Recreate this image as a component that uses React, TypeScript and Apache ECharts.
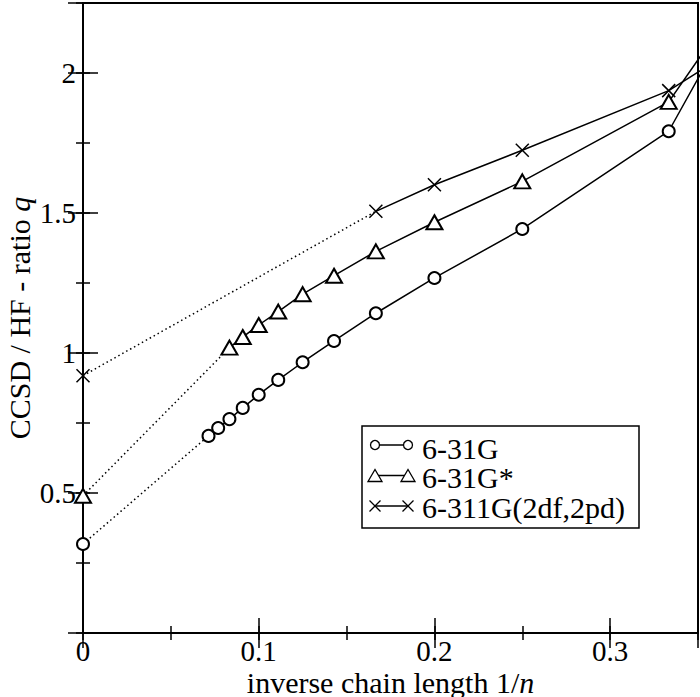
import { useEffect, useRef } from 'react'
import * as echarts from 'echarts'

// chain lengths n (x = 1/n) and CCSD/HF ratio q for each basis set
const chainN631G = [2, 3, 4, 5, 6, 7, 8, 9, 10, 11, 12, 13, 14]
const q631G = [3.67, 1.792, 1.443, 1.268, 1.142, 1.043, 0.967, 0.904, 0.851, 0.804, 0.764, 0.732, 0.704]
const chainN631Gs = [2, 3, 4, 5, 6, 7, 8, 9, 10, 11, 12]
const q631Gs = [3.4, 1.897, 1.613, 1.467, 1.363, 1.276, 1.21, 1.148, 1.1, 1.057, 1.019]
const chainN6311G = [2, 3, 4, 5, 6]
const q6311G = [2.6, 1.937, 1.724, 1.601, 1.506]
// extrapolated values at 1/n = 0
const qLimit = [0.318, 0.49, 0.919]

const seriesNames = ['6-31G', '6-31G*', '6-311G(2df,2pd)']
const xTickLabels = ['0', '0.1', '0.2', '0.3']
const yTickLabels = ['0.5', '1', '1.5', '2']

const FONT = 'Liberation Serif'
const CROSS = 'path://M0,0L1,1M1,0L0,1'

const toPoints = (ns: number[], qs: number[]) => ns.map((n, i) => [1 / n, qs[i]])

export default function App() {
  const chartRef = useRef<HTMLDivElement>(null)

  useEffect(() => {
    if (!chartRef.current) return
    const chart = echarts.init(chartRef.current, undefined, { renderer: 'svg' })

    const sets = [
      { ns: chainN631G, qs: q631G, symbol: 'emptyCircle', size: 12 as any },
      { ns: chainN631Gs, qs: q631Gs, symbol: 'emptyTriangle', size: [16, 14] as any },
      { ns: chainN6311G, qs: q6311G, symbol: CROSS, size: 13 as any },
    ]

    // empty symbols take their stroke from color and get a white fill
    const itemStyle = { color: '#000', borderColor: '#000', borderWidth: 1.5 }

    const dotted = sets.map((s, i) => {
      const last = s.ns.length - 1
      return {
        type: 'line',
        name: seriesNames[i] + ' extrapolation',
        data: [
          { value: [0, qLimit[i]] },
          { value: [1 / s.ns[last], s.qs[last]], symbol: 'none' },
        ],
        symbol: s.symbol,
        symbolSize: s.size,
        itemStyle,
        lineStyle: { color: '#000', width: 1.5, type: [1.5, 3] },
        z: 2,
      }
    })

    const solid = sets.map((s, i) => ({
      type: 'line',
      name: seriesNames[i],
      data: toPoints(s.ns, s.qs),
      symbol: s.symbol,
      symbolSize: s.size,
      itemStyle,
      lineStyle: { color: '#000', width: 1.5 },
      z: 3,
    }))

    const xLabel = (v: number) => {
      const s = String(+v.toFixed(2))
      return xTickLabels.includes(s) ? s : ''
    }
    const yLabel = (v: number) => {
      const s = String(+v.toFixed(2))
      return yTickLabels.includes(s) ? s : ''
    }

    const tick = (len: number) => ({
      show: true,
      inside: true,
      length: len,
      lineStyle: { color: '#000', width: 1.5 },
    })

    const xBase = { type: 'value', min: 0, max: 0.35, axisLine: { show: false }, splitLine: { show: false } }
    const yBase = { type: 'value', min: 0, max: 2.25, axisLine: { show: false }, splitLine: { show: false } }

    // legend rows drawn by hand so the marks read "o—o" like the original
    const legendX = 362
    const legendY = 426
    const rowY = [445, 475.5, 506]
    const textY = [448, 477.5, 507]
    const legendChildren: any[] = [
      {
        type: 'rect',
        shape: { x: legendX, y: legendY, width: 277, height: 102 },
        style: { fill: '#fff', stroke: '#000', lineWidth: 1.5 },
      },
    ]
    const sym = (kind: number, cx: number, cy: number) => {
      if (kind === 0) {
        return [{ type: 'circle', shape: { cx, cy, r: 4.5 }, style: { fill: '#fff', stroke: '#000', lineWidth: 1.3 } }]
      }
      if (kind === 1) {
        return [
          {
            type: 'polygon',
            shape: { points: [[cx - 7, cy + 6], [cx, cy - 6], [cx + 7, cy + 6]] },
            style: { fill: '#fff', stroke: '#000', lineWidth: 1.3 },
          },
        ]
      }
      return [
        { type: 'line', shape: { x1: cx - 5.5, y1: cy - 5.5, x2: cx + 5.5, y2: cy + 5.5 }, style: { stroke: '#000', lineWidth: 1.3 } },
        { type: 'line', shape: { x1: cx + 5.5, y1: cy - 5.5, x2: cx - 5.5, y2: cy + 5.5 }, style: { stroke: '#000', lineWidth: 1.3 } },
      ]
    }
    seriesNames.forEach((name, i) => {
      const y = rowY[i]
      legendChildren.push({
        type: 'line',
        shape: { x1: 375, y1: y, x2: 408, y2: y },
        style: { stroke: '#000', lineWidth: 1.5 },
      })
      legendChildren.push(...sym(i, 375, y), ...sym(i, 408, y))
      legendChildren.push({
        type: 'text',
        x: 422,
        y: textY[i],
        style: { text: name, font: `30px "${FONT}"`, lineHeight: 26, fill: '#000', verticalAlign: 'middle' },
      })
    })

    const nameStyle = {
      fontFamily: FONT,
      fontSize: 30,
      lineHeight: 28,
      color: '#000',
      rich: { i: { fontFamily: FONT, fontSize: 30, lineHeight: 28, fontStyle: 'italic', color: '#000' } },
    }

    chart.setOption({
      animation: false,
      backgroundColor: '#fff',
      grid: {
        left: 83,
        right: 2,
        top: 3,
        bottom: 64,
        outerBoundsMode: 'none',
        containLabel: false,
        show: true,
        borderColor: '#000',
        borderWidth: 2,
        backgroundColor: 'transparent',
      },
      xAxis: [
        {
          ...xBase,
          interval: 0.1,
          position: 'bottom',
          axisTick: tick(15),
          axisLabel: { formatter: xLabel, margin: 5, lineHeight: 26, fontFamily: FONT, fontSize: 29, color: '#000' },
          name: 'inverse chain length 1/{i|n}',
          nameLocation: 'middle',
          nameGap: 35,
          nameMoveOverlap: false,
          nameTextStyle: nameStyle,
        },
        { ...xBase, interval: 0.05, position: 'bottom', axisTick: tick(7), axisLabel: { show: false } },
        { ...xBase, interval: 0.1, position: 'top', axisTick: tick(15), axisLabel: { show: false } },
        { ...xBase, interval: 0.05, position: 'top', axisTick: tick(7), axisLabel: { show: false } },
      ],
      yAxis: [
        {
          ...yBase,
          interval: 0.5,
          position: 'left',
          axisTick: tick(15),
          axisLabel: { formatter: yLabel, margin: 7, fontFamily: FONT, fontSize: 29, color: '#000' },
          name: 'CCSD / HF - ratio {i|q}',
          nameLocation: 'middle',
          nameGap: 50,
          nameMoveOverlap: false,
          nameTextStyle: nameStyle,
        },
        { ...yBase, interval: 0.25, position: 'left', axisTick: tick(7), axisLabel: { show: false } },
        { ...yBase, interval: 0.5, position: 'right', axisTick: tick(15), axisLabel: { show: false } },
        { ...yBase, interval: 0.25, position: 'right', axisTick: tick(7), axisLabel: { show: false } },
      ],
      series: [...dotted, ...solid],
      graphic: [{ type: 'group', z: 100, children: legendChildren }],
    })

    return () => {
      chart.dispose()
    }
  }, [])

  return <div ref={chartRef} style={{ position: 'absolute', left: 0, top: 0, width: 700, height: 697 }} />
}
